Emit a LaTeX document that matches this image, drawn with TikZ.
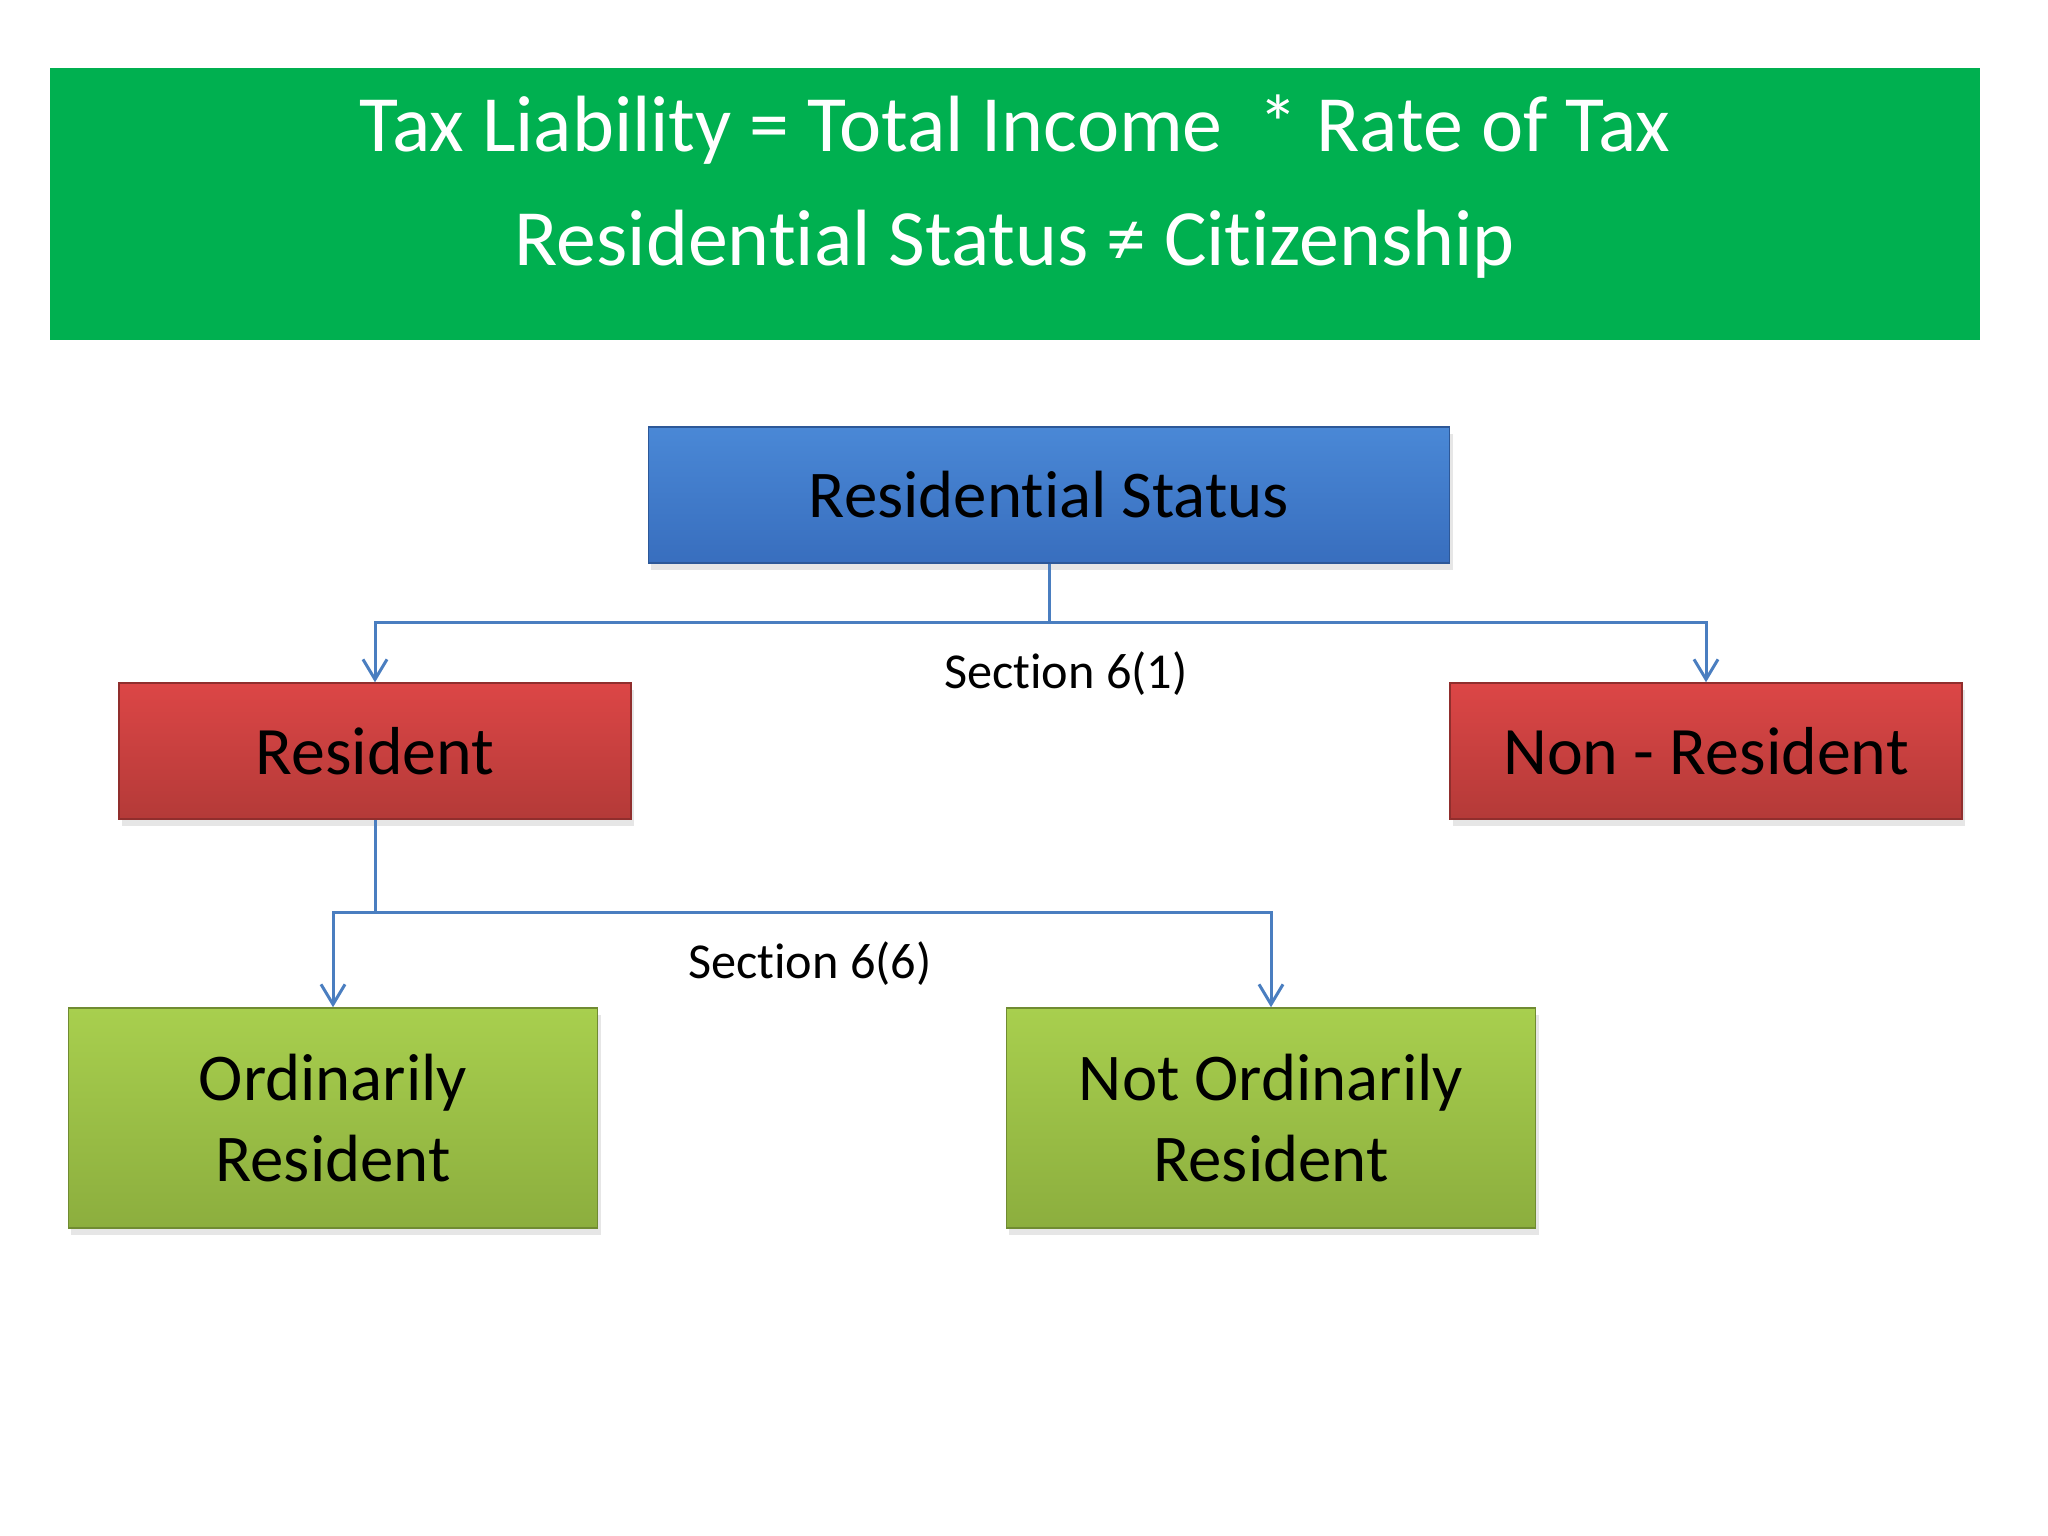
\documentclass[tikz,border=0pt]{standalone}
\usepackage{fontspec}
\setmainfont{Carlito}[Ligatures=NoCommon]
\usetikzlibrary{arrows.meta, positioning, shadows}

\definecolor{bannergreen}{HTML}{00B050}
\definecolor{linkblue}{HTML}{4A7EC0}
\definecolor{bluetop}{HTML}{4A88D6}
\definecolor{bluebot}{HTML}{386EBE}
\definecolor{redtop}{HTML}{DC4646}
\definecolor{redbot}{HTML}{B43A38}
\definecolor{limetop}{HTML}{A8CF4E}
\definecolor{limebot}{HTML}{8CAE3E}

\begin{document}
\begin{tikzpicture}[x=0.01cm, y=-0.01cm,
      banner/.style={rectangle, fill=bannergreen, minimum width=19.28cm, minimum height=2.72cm, inner sep=0pt},
      headline/.style={text=white, font=\fontsize{22.7}{27}\selectfont},
      status/.style={rectangle, draw=bluebot!80!black, top color=bluetop, bottom color=bluebot,
        minimum width=8.01cm, minimum height=1.36cm, drop shadow={opacity=0.2, shadow xshift=0.3mm, shadow yshift=-0.7mm},
        font=\fontsize{19}{23}\selectfont},
      resbox/.style={rectangle, draw=redbot!80!black, top color=redtop, bottom color=redbot,
        minimum width=5.12cm, minimum height=1.36cm, drop shadow={opacity=0.2, shadow xshift=0.3mm, shadow yshift=-0.7mm},
        font=\fontsize{19.3}{23}\selectfont},
      ordbox/.style={rectangle, draw=limebot!80!black, top color=limetop, bottom color=limebot,
        minimum width=5.29cm, minimum height=2.2cm, align=center, drop shadow={opacity=0.2, shadow xshift=0.3mm, shadow yshift=-0.7mm},
        font=\fontsize{19}{23.3}\selectfont},
      link/.style={draw=linkblue, line width=0.3mm},
      section/.style={font=\fontsize{14.3}{17}\selectfont}]

      \useasboundingbox (0,0) rectangle (2048,1536);

      % Header
      \node[banner] (head) at (1015,204) {};
      \node[headline] (liability) at (1015,130) {Tax Liability = Total Income~ * Rate of Tax};
      \node[headline] (citizen) at (1015,244) {Residential Status ≠ Citizenship};

      % Boxes
      \node[status] (resstatus) at (1049,495) {Residential Status};
      \node[resbox] (resident) at (375,751) {Resident};
      \node[resbox] (nonres) at (1706,751) {Non - Resident};
      \node[ordbox] (ordres) at (333,1118) {Ordinarily\\Resident};
      \node[ordbox] (notord) at (1271,1118) {Not Ordinarily\\Resident};

      \coordinate (split1) at (1049,622);
      \coordinate (split2) at (375,912);

      % Arrows
      \draw[link] (resstatus.south) -- (split1);
      \draw[link, -{Straight Barb[length=2mm, width=2.4mm]}] (split1) -| (resident.north);
      \draw[link, -{Straight Barb[length=2mm, width=2.4mm]}] (split1) -| (nonres.north);

      \draw[link] (resident.south) -- (split2);
      \draw[link, -{Straight Barb[length=2mm, width=2.4mm]}] (split2) -| (ordres.north);
      \draw[link, -{Straight Barb[length=2mm, width=2.4mm]}] (split2) -| (notord.north);

      % Labels
      \node[section] (sec61) at (1066,674) {Section 6(1)};
      \node[section] (sec66) at (810,964) {Section 6(6)};
    \end{tikzpicture}
\end{document}
